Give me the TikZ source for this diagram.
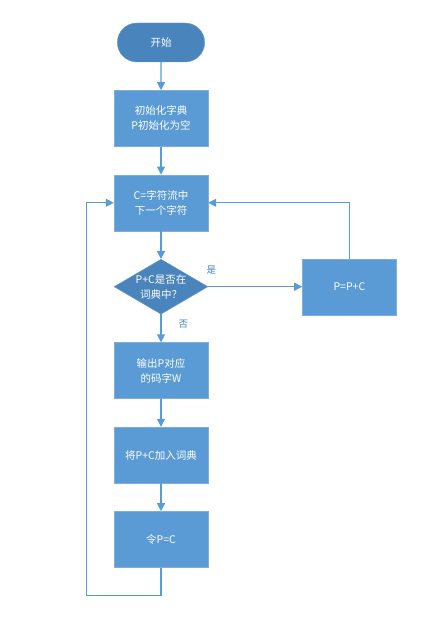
\documentclass[tikz,border=0pt]{standalone}
\usepackage{fontspec}
\newfontfamily\cjk{Noto Sans CJK SC}
\usepackage{tikz}
\usetikzlibrary{positioning,arrows.meta,shapes.geometric,shapes.misc}

\definecolor{boxblue}{HTML}{5B9BD5}
\definecolor{darkblue}{HTML}{4A84BC}

\begin{document}
\begin{tikzpicture}[
  node distance=28pt and 94pt,
  every node/.style={font=\cjk\fontsize{10.5}{15}\selectfont},
  process/.style={draw=boxblue!80!white,fill=boxblue,text=white,rectangle,minimum width=94pt,minimum height=56pt,align=center,inner sep=2pt},
  terminal/.style={draw=darkblue!80!white,fill=darkblue,text=white,rounded rectangle,minimum width=94pt,minimum height=39pt},
  decision/.style={draw=darkblue!80!white,fill=darkblue,text=white,diamond,aspect=1.7,minimum width=94pt,minimum height=55pt,inner sep=0pt,align=center},
  tag/.style={text=darkblue,font=\cjk\fontsize{9.5}{11}\selectfont},
  flow/.style={draw=boxblue,line width=1.2pt,-{Triangle[length=8pt,width=8pt]}},
]
  \useasboundingbox (0,0) rectangle (441pt,-628pt);

  % Main column
  \node[terminal] (start) at (161pt,-42.5pt) {开始};
  \node[process,below=of start] (init) {初始化字典\\P初始化为空};
  \node[process,below=of init] (next) {C=字符流中\\下一个字符};
  \node[decision,below=of next] (check) {P+C是否在\\词典中？};
  \node[process,below=of check] (emit) {输出P对应\\的码字W};
  \node[process,below=of emit] (add) {将P+C加入词典};
  \node[process,below=of add] (setp) {令P=C};

  % Yes branch
  \node[process,right=of check] (grow) {P=P+C};

  % Labels
  \node[tag,above right=9pt and -5pt of check.east] (yes) {是};
  \node[tag,below right=2pt and 14pt of check.south] (no) {否};

  % Edges: main column
  \path[flow] (start) -- (init);
  \path[flow] (init) -- (next);
  \path[flow] (next) -- (check);
  \path[flow] (check) -- (emit);
  \path[flow] (emit) -- (add);
  \path[flow] (add) -- (setp);

  % Edges: loops
  \path[flow] (check) -- (grow);
  \path[flow] (grow.north) |- (next.east);
  \path[flow] (setp.south) -- ++(0,-28pt) -| ([xshift=-27pt]next.west) -- (next.west);
\end{tikzpicture}
\end{document}
